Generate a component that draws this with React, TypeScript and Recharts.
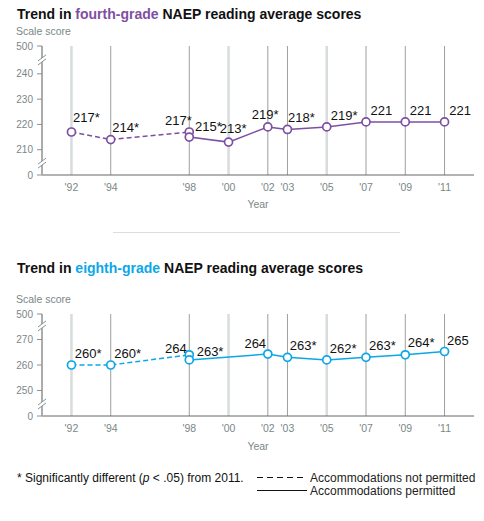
import React from "react";
import { LineChart, Line, XAxis, YAxis, CartesianGrid, ReferenceDot } from "recharts";

// shared x axis
const tickYears = [1992, 1994, 1998, 2000, 2002, 2003, 2005, 2007, 2009, 2011];
const wideGridYears = [1992, 2000, 2005];
const thinGridYears = [1994, 1998, 2002, 2003, 2007, 2009, 2011];

// fourth grade
const g4DashedYears = [1992, 1994, 1998];
const g4DashedScores = [217, 214, 217];
const g4DashedLabels = ["217*", "214*", "217*"];
const g4SolidYears = [1998, 2000, 2002, 2003, 2005, 2007, 2009, 2011];
const g4SolidScores = [215, 213, 219, 218, 219, 221, 221, 221];
const g4SolidLabels = ["215*", "213*", "219*", "218*", "219*", "221", "221", "221"];
const g4YTicks = [200, 210, 220, 230, 240, 251];
const g4YTickLabels = ["0", "210", "220", "230", "240", "500"];
const g4Breaks = [204.7, 245.5];

// eighth grade
const g8DashedYears = [1992, 1994, 1998];
const g8DashedScores = [260, 260, 264];
const g8DashedLabels = ["260*", "260*", "264"];
const g8SolidYears = [1998, 2002, 2003, 2005, 2007, 2009, 2011];
const g8SolidScores = [262, 264.3, 263, 262, 263, 264, 265.3];
const g8SolidLabels = ["263*", "264", "263*", "262*", "263*", "264*", "265"];
const g8YTicks = [240, 250, 260, 270, 280];
const g8YTickLabels = ["0", "250", "260", "270", "500"];
const g8Breaks = [244.7, 275.3];

type Nudge = { dx: number; dy: number; anchor?: "start" | "middle" | "end" };

// where each value label sits relative to its point
const g4DashedNudges: Nudge[] = [
  { dx: 1.5, dy: -10 },
  { dx: 1.5, dy: -7.5 },
  { dx: 2.5, dy: -7, anchor: "end" },
];
const g4SolidNudges: Nudge[] = [
  { dx: 5.7, dy: -6 },
  { dx: -8.7, dy: -9 },
  { dx: -2.7, dy: -8.4, anchor: "middle" },
  { dx: 0.6, dy: -7.3 },
  { dx: 4, dy: -7 },
  { dx: 4.5, dy: -7.3 },
  { dx: 4.5, dy: -7.3 },
  { dx: 4.7, dy: -7.3 },
];
const g8DashedNudges: Nudge[] = [
  { dx: 3.4, dy: -7.3 },
  { dx: 3.6, dy: -7.3 },
  { dx: -2.6, dy: -2, anchor: "end" },
];
const g8SolidNudges: Nudge[] = [
  { dx: 7.4, dy: -3.6 },
  { dx: -1.7, dy: -5.6, anchor: "end" },
  { dx: 2.3, dy: -7.7 },
  { dx: 3, dy: -7.3 },
  { dx: 3, dy: -7.7 },
  { dx: 2.6, dy: -8.3 },
  { dx: 2.4, dy: -6.7 },
];

const PURPLE = "#7d4fa3";
const BLUE = "#0ba7e8";
const GRAY_TEXT = "#7a8787";
const FONT = "'Liberation Sans', Arial, sans-serif";
const X_DOMAIN: [number, number] = [1990.5, 2012.5];

const toRows = (years: number[], scores: number[], labels: string[]) =>
  years.map((year, i) => ({ year, score: scores[i], label: labels[i] }));

function makeDot(color: string, nudges: Nudge[]) {
  return (props: any) => {
    const { cx, cy, index, payload } = props;
    if (cx == null || cy == null) return <g key={`d-${index}`} />;
    const n = nudges[index] || { dx: 3, dy: -7 };
    return (
      <g key={`d-${index}`}>
        <circle cx={cx} cy={cy} r={4} fill="#fff" stroke={color} strokeWidth={1.7} />
        <text
          x={cx + n.dx}
          y={cy + n.dy}
          textAnchor={n.anchor || "start"}
          fontSize={13}
          fontFamily={FONT}
          fill="#111"
        >
          {payload.label}
        </text>
      </g>
    );
  };
}

function BreakMark(props: any) {
  const { cx, cy } = props;
  return (
    <g>
      <polygon
        points={`${cx - 4},${cy + 1} ${cx + 4},${cy - 5} ${cx + 4},${cy - 1} ${cx - 4},${cy + 5}`}
        fill="#fff"
      />
      <line x1={cx - 4} y1={cy + 1} x2={cx + 4} y2={cy - 5} stroke="#8c9191" strokeWidth={1} />
      <line x1={cx - 4} y1={cy + 5} x2={cx + 4} y2={cy - 1} stroke="#8c9191" strokeWidth={1} />
    </g>
  );
}

interface TrendChartProps {
  top: number;
  height: number;
  plotTop: number;
  color: string;
  yDomain: [number, number];
  yTicks: number[];
  yTickLabels: string[];
  breaks: number[];
  dashed: { year: number; score: number; label: string }[];
  solid: { year: number; score: number; label: string }[];
  dashedNudges: Nudge[];
  solidNudges: Nudge[];
}

function TrendChart({
  top,
  height,
  plotTop,
  color,
  yDomain,
  yTicks,
  yTickLabels,
  breaks,
  dashed,
  solid,
  dashedNudges,
  solidNudges,
}: TrendChartProps) {
  return (
    <div style={{ position: "absolute", left: 0, top }}>
      <LineChart
        width={484}
        height={height}
        margin={{ top: plotTop - top, right: 10, bottom: 0, left: 0 }}
      >
        {/* vertical year lines, two weights */}
        <CartesianGrid
          horizontal={false}
          verticalValues={wideGridYears}
          stroke="#d8dcdc"
          strokeWidth={2.5}
        />
        <CartesianGrid
          horizontal={false}
          verticalValues={thinGridYears}
          stroke="#9a9f9f"
          strokeWidth={1}
        />
        <XAxis
          dataKey="year"
          type="number"
          domain={X_DOMAIN}
          ticks={tickYears}
          allowDataOverflow
          tickFormatter={(v) => "'" + String(v).slice(2)}
          tick={{ fontSize: 10.5, fill: GRAY_TEXT, fontFamily: FONT }}
          axisLine={{ stroke: "#666", strokeWidth: 1 }}
          tickLine={false}
          tickSize={0}
          tickMargin={9}
          height={40}
          interval={0}
        />
        <YAxis
          type="number"
          domain={yDomain}
          ticks={yTicks}
          allowDataOverflow
          tickFormatter={(v) => yTickLabels[yTicks.indexOf(v)] ?? ""}
          tick={{ fontSize: 10, fill: GRAY_TEXT, fontFamily: FONT }}
          axisLine={{ stroke: "#a9adad", strokeWidth: 2 }}
          tickLine={{ stroke: "#8c9191" }}
          tickSize={5}
          tickMargin={4}
          width={42}
          interval={0}
        />
        {breaks.map((b) => (
          <ReferenceDot
            key={b}
            x={X_DOMAIN[0]}
            y={b}
            r={0}
            ifOverflow="visible"
            shape={(p: any) => <BreakMark {...p} />}
          />
        ))}
        <Line
          data={dashed}
          dataKey="score"
          stroke={color}
          strokeWidth={1.5}
          strokeDasharray="5 3"
          dot={makeDot(color, dashedNudges)}
          activeDot={false}
          isAnimationActive={false}
        />
        <Line
          data={solid}
          dataKey="score"
          stroke={color}
          strokeWidth={1.5}
          dot={makeDot(color, solidNudges)}
          activeDot={false}
          isAnimationActive={false}
        />
      </LineChart>
    </div>
  );
}

export default function App() {
  return (
    <div
      style={{
        position: "absolute",
        left: 0,
        top: 0,
        width: 484,
        height: 521,
        background: "#fff",
        fontFamily: FONT,
      }}
    >
      <TrendChart
        top={0}
        height={215}
        plotTop={46}
        color={PURPLE}
        yDomain={[200, 251]}
        yTicks={g4YTicks}
        yTickLabels={g4YTickLabels}
        breaks={g4Breaks}
        dashed={toRows(g4DashedYears, g4DashedScores, g4DashedLabels)}
        solid={toRows(g4SolidYears, g4SolidScores, g4SolidLabels)}
        dashedNudges={g4DashedNudges}
        solidNudges={g4SolidNudges}
      />
      <TrendChart
        top={270}
        height={186}
        plotTop={314}
        color={BLUE}
        yDomain={[240, 280]}
        yTicks={g8YTicks}
        yTickLabels={g8YTickLabels}
        breaks={g8Breaks}
        dashed={toRows(g8DashedYears, g8DashedScores, g8DashedLabels)}
        solid={toRows(g8SolidYears, g8SolidScores, g8SolidLabels)}
        dashedNudges={g8DashedNudges}
        solidNudges={g8SolidNudges}
      />
      <svg
        width={484}
        height={521}
        style={{ position: "absolute", left: 0, top: 0, pointerEvents: "none" }}
        fontFamily={FONT}
      >
        <text x={17} y={18.6} fontSize={14} fontWeight="bold" fill="#111">
          Trend in <tspan fill={PURPLE}>fourth-grade</tspan> NAEP reading average scores
        </text>
        <text x={16} y={35} fontSize={10.5} fill={GRAY_TEXT}>
          Scale score
        </text>
        <text x={258} y={208} fontSize={10.5} fill={GRAY_TEXT} textAnchor="middle">
          Year
        </text>
        <line x1={113} x2={400} y1={232.5} y2={232.5} stroke="#dddddd" strokeWidth={1} />
        <text x={17} y={273} fontSize={14} fontWeight="bold" fill="#111">
          Trend in <tspan fill={BLUE}>eighth-grade</tspan> NAEP reading average scores
        </text>
        <text x={16} y={303} fontSize={10.5} fill={GRAY_TEXT}>
          Scale score
        </text>
        <text x={258} y={450} fontSize={10.5} fill={GRAY_TEXT} textAnchor="middle">
          Year
        </text>
        <text x={17} y={481.6} fontSize={12} fill="#111">
          * Significantly different (<tspan fontStyle="italic">p</tspan> &lt; .05) from 2011.
        </text>
        <line x1={257} x2={307} y1={477.5} y2={477.5} stroke="#111" strokeWidth={1} strokeDasharray="6 4" />
        <text x={310} y={481.6} fontSize={12} fill="#222">
          Accommodations not permitted
        </text>
        <line x1={257} x2={307} y1={490.5} y2={490.5} stroke="#111" strokeWidth={1} />
        <text x={310} y={495.3} fontSize={12} fill="#222">
          Accommodations permitted
        </text>
      </svg>
    </div>
  );
}
